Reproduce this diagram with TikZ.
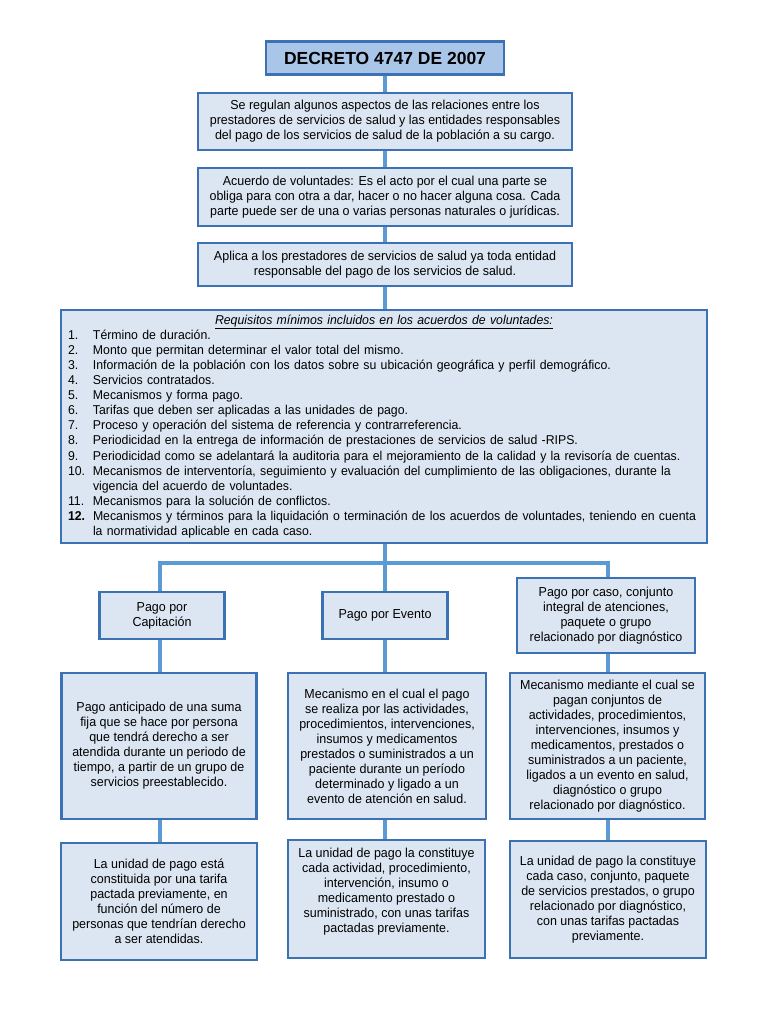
\documentclass[tikz,border=0pt]{standalone}
\usepackage{fontspec}
\setmainfont{Liberation Sans}[FakeStretch=0.96]
\newfontfamily\titlefont{Liberation Sans}
\usetikzlibrary{positioning}

\definecolor{boxline}{HTML}{3C72B3}
\definecolor{boxfill}{HTML}{DCE6F2}
\definecolor{headfill}{HTML}{A9C6E8}
\definecolor{linkline}{HTML}{5B9BD5}

\newcommand{\reqitem}[2]{\par\hangindent=25pt\hangafter=1\noindent\makebox[25pt][l]{#1}#2\par}

\begin{document}
\begin{tikzpicture}[
    x=1pt, y=-1pt,
    block/.style={rectangle, draw=boxline, line width=2.2pt, fill=boxfill, align=center, inner sep=3pt, font=\fontsize{13}{15}\selectfont},
    head/.style={block, fill=headfill, font=\titlefont\bfseries\fontsize{17.5}{20}\selectfont},
    link/.style={draw=linkline, line width=3.5pt}
]
\fill[white] (0,0) rectangle (768,1024);
\useasboundingbox (0,0) rectangle (768,1024);

% main column
\node [head, minimum width=238pt, minimum height=33pt] (title) at (385,58) {DECRETO 4747 DE 2007};
\node [block, minimum width=374pt, minimum height=57pt] (intro) at (385,121.5) {Se regulan algunos aspectos de las relaciones entre los\\ prestadores de servicios de salud y las entidades responsables\\ del pago de los servicios de salud de la población a su cargo.};
\node [block, minimum width=374pt, minimum height=58pt] (acuerdo) at (385,197) {Acuerdo de voluntades: Es el acto por el cual una parte se\\ obliga para con otra a dar, hacer o no hacer alguna cosa. Cada\\ parte puede ser de una o varias personas naturales o jurídicas.};
\node [block, minimum width=374pt, minimum height=43pt] (aplica) at (385,264.5) {Aplica a los prestadores de servicios de salud ya toda entidad\\ responsable del pago de los servicios de salud.};
\node [block, align=left, text width=632pt, inner xsep=5pt, minimum width=646pt, minimum height=233pt, font=\fontsize{12.8}{15.1}\selectfont] (req) at (384,426.5) {%
\makebox[\linewidth][c]{\underline{\itshape Requisitos mínimos incluidos en los acuerdos de voluntades:}}
\reqitem{1.}{Término de duración.}
\reqitem{2.}{Monto que permitan determinar el valor total del mismo.}
\reqitem{3.}{Información de la población con los datos sobre su ubicación geográfica y perfil demográfico.}
\reqitem{4.}{Servicios contratados.}
\reqitem{5.}{Mecanismos y forma pago.}
\reqitem{6.}{Tarifas que deben ser aplicadas a las unidades de pago.}
\reqitem{7.}{Proceso y operación del sistema de referencia y contrarreferencia.}
\reqitem{8.}{Periodicidad en la entrega de información de prestaciones de servicios de salud -RIPS.}
\reqitem{9.}{Periodicidad como se adelantará la auditoria para el mejoramiento de la calidad y la revisoría de cuentas.}
\reqitem{10.}{\mbox{Mecanismos de interventoría, seguimiento y evaluación del cumplimiento de las obligaciones, durante la}\newline vigencia del acuerdo de voluntades.}
\reqitem{11.}{Mecanismos para la solución de conflictos.}
\reqitem{\textbf{12.}}{\mbox{Mecanismos y términos para la liquidación o terminación de los acuerdos de voluntades, teniendo en cuenta}\newline la normatividad aplicable en cada caso.}};

% payment types
\node [block, minimum width=125pt, minimum height=47pt] (cap) at (162,615.5) {Pago por\\ Capitación};
\node [block, minimum width=125pt, minimum height=47pt] (evento) at (385,615.5) {Pago por Evento};
\node [block, minimum width=178pt, minimum height=75pt] (caso) at (606,615.5) {Pago por caso, conjunto\\ integral de atenciones,\\ paquete o grupo\\ relacionado por diagnóstico};

% definitions
\node [block, minimum width=195pt, minimum height=146pt] (capdef) at (159,746) {Pago anticipado de una suma\\ fija que se hace por persona\\ que tendrá derecho a ser\\ atendida durante un periodo de\\ tiempo, a partir de un grupo de\\ servicios preestablecido.};
\node [block, minimum width=198pt, minimum height=146pt] (eventodef) at (387,746) {Mecanismo en el cual el pago\\ se realiza por las actividades,\\ procedimientos, intervenciones,\\ insumos y medicamentos\\ prestados o suministrados a un\\ paciente durante un período\\ determinado y ligado a un\\ evento de atención en salud.};
\node [block, minimum width=195pt, minimum height=146pt] (casodef) at (607.5,746) {Mecanismo mediante el cual se\\ pagan conjuntos de\\ actividades, procedimientos,\\ intervenciones, insumos y\\ medicamentos, prestados o\\ suministrados a un paciente,\\ ligados a un evento en salud,\\ diagnóstico o grupo\\ relacionado por diagnóstico.};

% payment units
\node [block, minimum width=196pt, minimum height=117pt] (capunit) at (159,901.5) {La unidad de pago está\\ constituida por una tarifa\\ pactada previamente, en\\ función del número de\\ personas que tendrían derecho\\ a ser atendidas.};
\node [block, minimum width=197pt, minimum height=118pt] (eventounit) at (386.5,899) {La unidad de pago la constituye\\ cada actividad, procedimiento,\\ intervención, insumo o\\ medicamento prestado o\\ suministrado, con unas tarifas\\ pactadas previamente.\\[2pt]};
\node [block, minimum width=196pt, minimum height=117pt] (casounit) at (608,899.5) {La unidad de pago la constituye\\ cada caso, conjunto, paquete\\ de servicios prestados, o grupo\\ relacionado por diagnóstico,\\ con unas tarifas pactadas\\ previamente.};

% connectors
\coordinate (hub) at (385,563);
\draw [link] (title) -- (intro);
\draw [link] (intro) -- (acuerdo);
\draw [link] (acuerdo) -- (aplica);
\draw [link] (aplica) -- (aplica |- req.north);
\draw [link] (req.south -| hub) -- (hub);
\draw [link] (hub) -| (cap.north -| 160,0);
\draw [link] (hub) -| (caso.north -| 608,0);
\draw [link] (hub) -- (evento.north -| hub);
\draw [link] (cap.south -| 160,0) -- (capdef.north -| 160,0);
\draw [link] (evento) -- (evento |- eventodef.north);
\draw [link] (caso.south -| 608,0) -- (casodef.north -| 608,0);
\draw [link] (capdef.south -| 160,0) -- (capunit.north -| 160,0);
\draw [link] (eventodef.south -| hub) -- (eventounit.north -| hub);
\draw [link] (casodef.south -| 608,0) -- (casounit.north -| 608,0);

\end{tikzpicture}
\end{document}
